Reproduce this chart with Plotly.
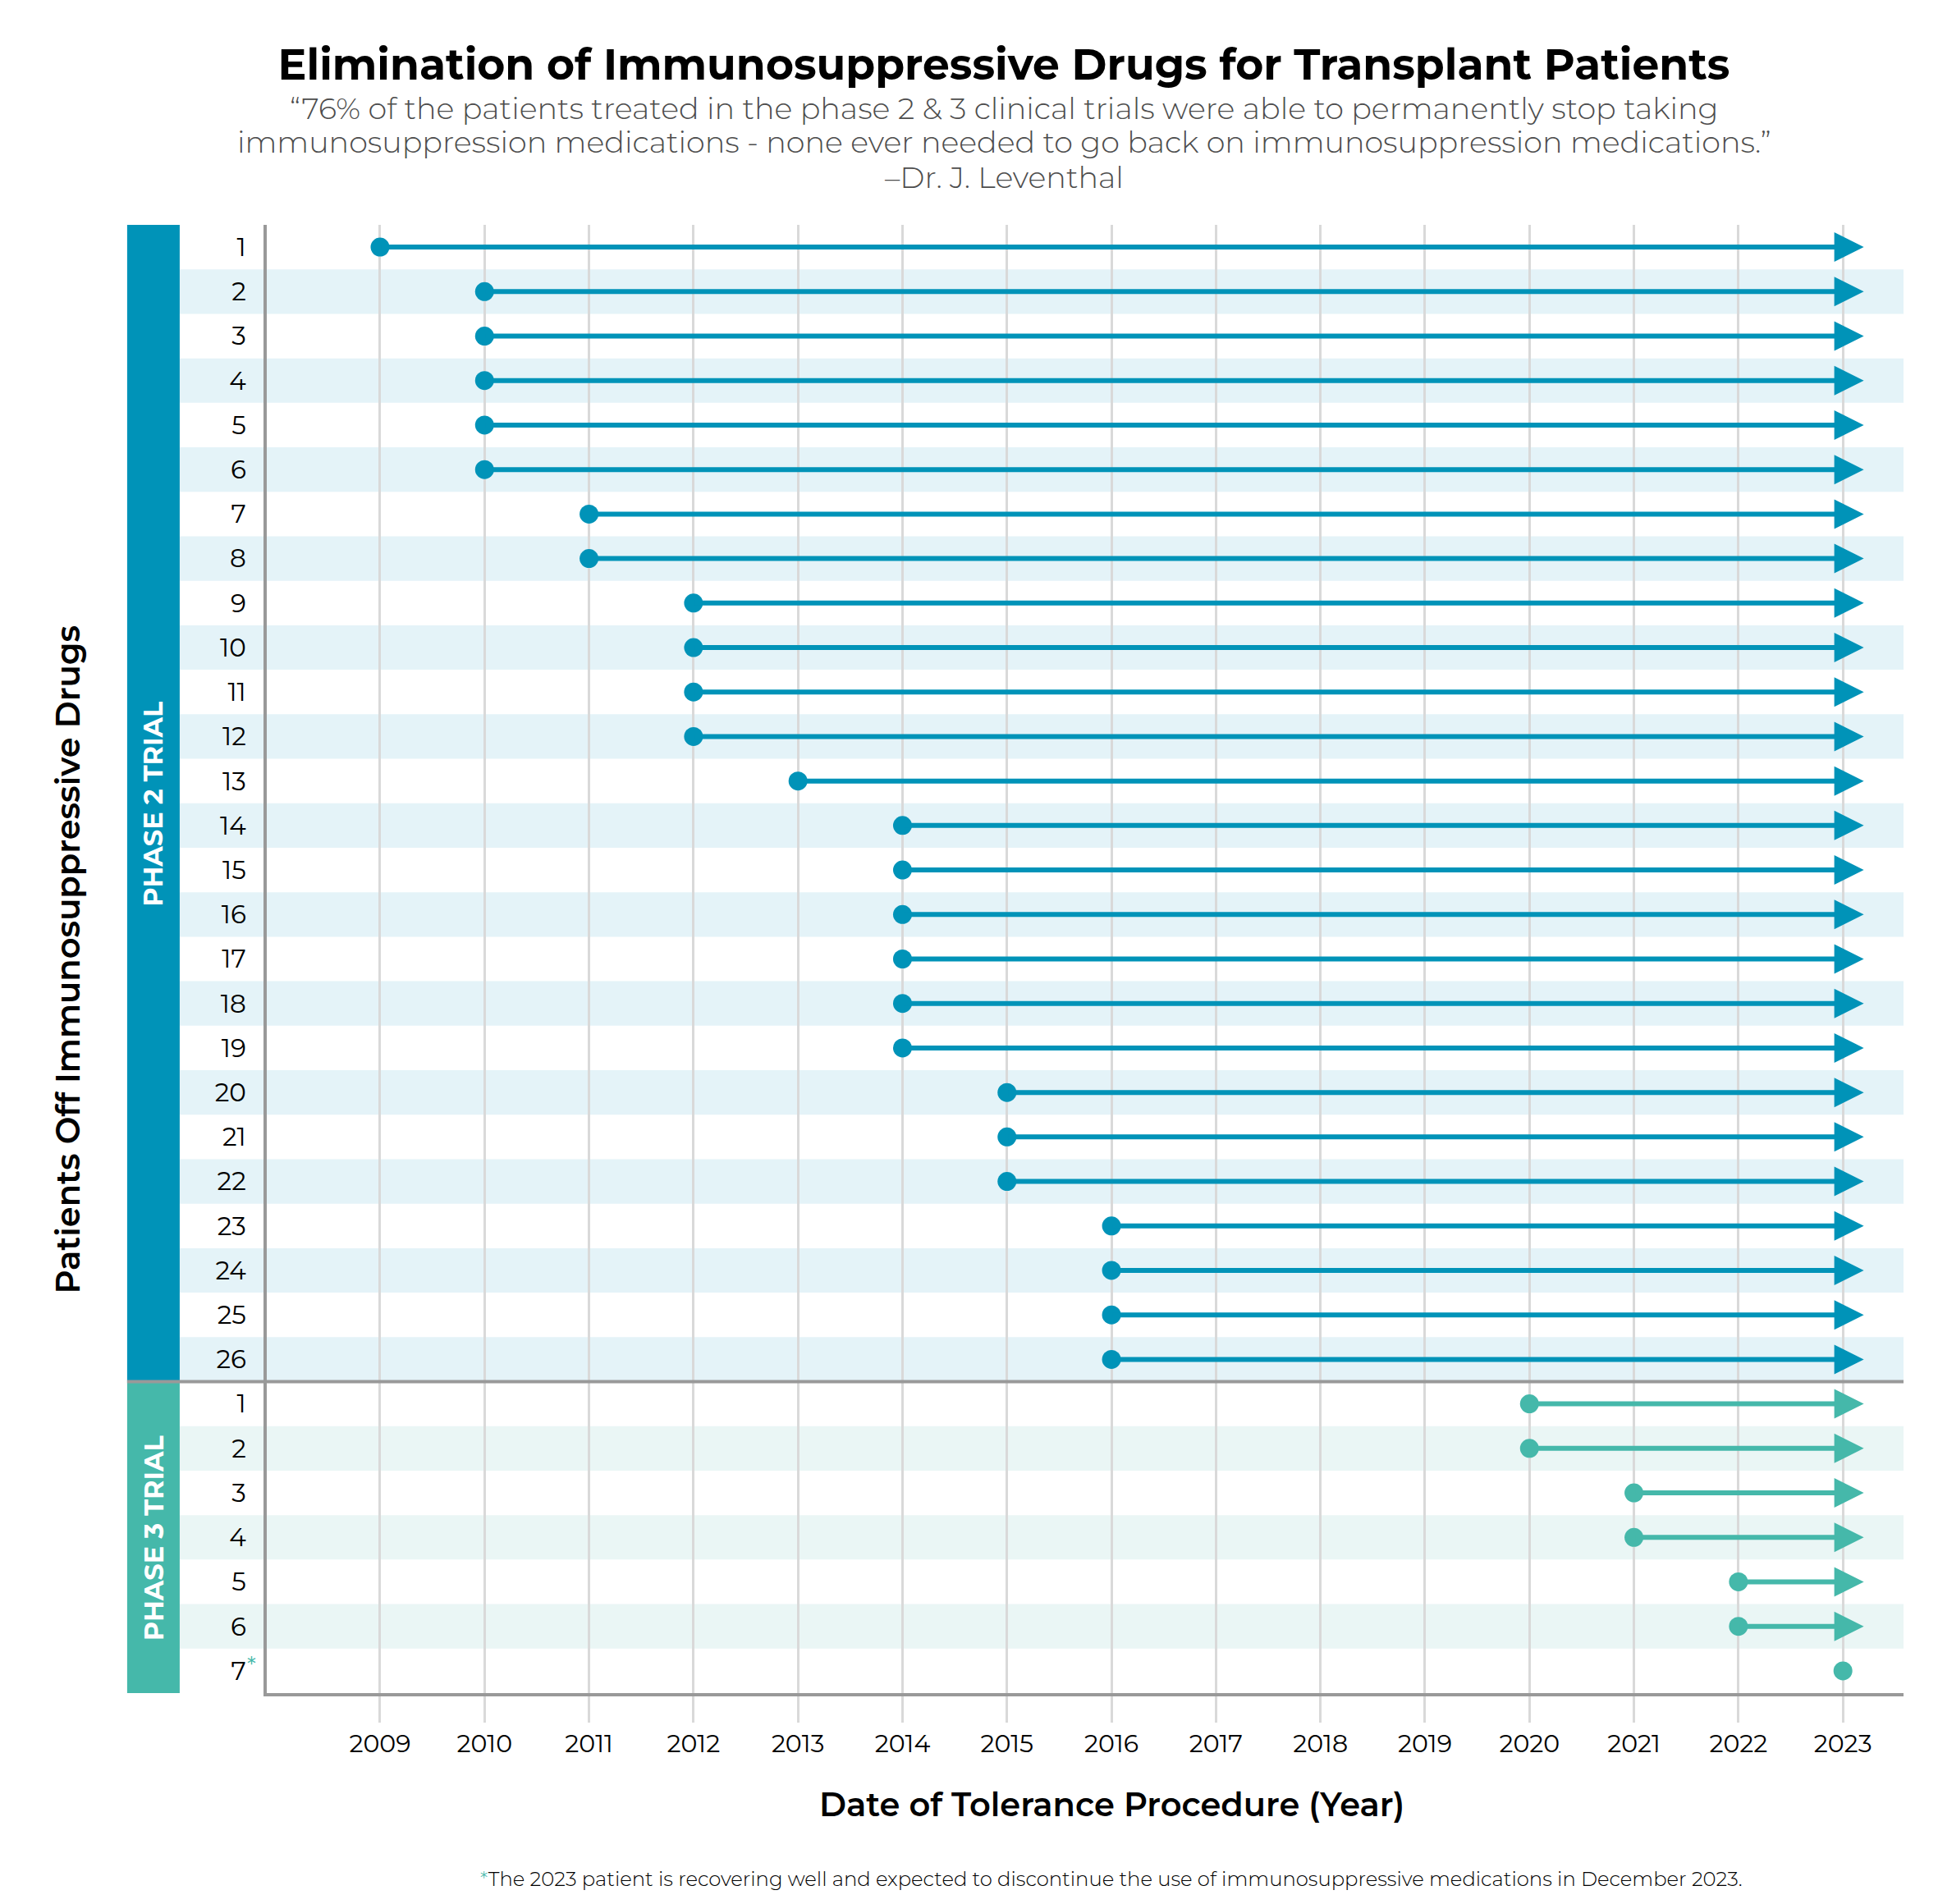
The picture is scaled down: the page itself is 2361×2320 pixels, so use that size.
import plotly.graph_objects as go

# Data: year each patient came off immunosuppressive drugs
phase2_start = [2009, 2010, 2010, 2010, 2010, 2010, 2011, 2011, 2012, 2012, 2012, 2012, 2013,
                2014, 2014, 2014, 2014, 2014, 2014, 2015, 2015, 2015, 2016, 2016, 2016, 2016]
phase3_start = [2020, 2020, 2021, 2021, 2022, 2022, 2023]
phase3_ongoing = [True, True, True, True, True, True, False]  # 7th patient still recovering
phase2_labels = [str(i) for i in range(1, 27)]
phase3_labels = [str(i) for i in range(1, 8)]
years = list(range(2009, 2024))
arrow_tip = 2023.2

# Styling
font = "Montserrat, Open Sans, sans-serif"
blue = "#0093B8"
teal = "#45B8AA"
blue_band = "#E4F3F8"
teal_band = "#EAF6F5"
axis_grey = "#999999"
grid_grey = "#D9D9D9"

n2 = len(phase2_start)
n3 = len(phase3_start)
rows2 = list(range(n2))
rows3 = list(range(n2, n2 + n3))

bar_x0 = -0.0853
bar_x1 = -0.0532

fig = go.Figure()

# start dots
fig.add_trace(go.Scatter(x=phase2_start, y=rows2, mode="markers",
                         marker=dict(size=23, color=blue), hoverinfo="x+y", showlegend=False))
fig.add_trace(go.Scatter(x=phase3_start, y=rows3, mode="markers",
                         marker=dict(size=23, color=teal), hoverinfo="x+y", showlegend=False))

shapes = []
annotations = []

# alternating light bands
for r in rows2:
    if r % 2 == 1:
        shapes.append(dict(type="rect", xref="paper", yref="y", x0=bar_x1, x1=1, y0=r - 0.5, y1=r + 0.5,
                           fillcolor=blue_band, line_width=0, layer="below"))
for r in rows3:
    if (r - n2) % 2 == 1:
        shapes.append(dict(type="rect", xref="paper", yref="y", x0=bar_x1, x1=1, y0=r - 0.5, y1=r + 0.5,
                           fillcolor=teal_band, line_width=0, layer="below"))

# phase bars
shapes.append(dict(type="rect", xref="paper", yref="y", x0=bar_x0, x1=bar_x1, y0=-0.5, y1=n2 - 0.5,
                   fillcolor=blue, line_width=0, layer="below"))
shapes.append(dict(type="rect", xref="paper", yref="y", x0=bar_x0, x1=bar_x1, y0=n2 - 0.5, y1=n2 + n3 - 0.5,
                   fillcolor=teal, line_width=0, layer="below"))
# divider between trials
shapes.append(dict(type="line", xref="paper", yref="y", x0=bar_x0, x1=1, y0=n2 - 0.5, y1=n2 - 0.5,
                   line=dict(color=axis_grey, width=4), layer="above"))

# arrows (line + head) from start year to present
for r, s in zip(rows2, phase2_start):
    annotations.append(dict(x=arrow_tip, y=r, ax=s, ay=r, xref="x", yref="y", axref="x", ayref="y",
                            text="", showarrow=True, arrowhead=2, arrowwidth=6, arrowsize=1.2,
                            arrowcolor=blue, standoff=0))
for r, s, go_on in zip(rows3, phase3_start, phase3_ongoing):
    if go_on:
        annotations.append(dict(x=arrow_tip, y=r, ax=s, ay=r, xref="x", yref="y", axref="x", ayref="y",
                                text="", showarrow=True, arrowhead=2, arrowwidth=6, arrowsize=1.2,
                                arrowcolor=teal, standoff=0))

# trial labels
annotations.append(dict(text="PHASE 2 TRIAL", xref="paper", yref="y", x=(bar_x0 + bar_x1) / 2, y=(n2 - 1) / 2,
                        xanchor="center", yanchor="middle", textangle=-90, showarrow=False,
                        font=dict(family=font, size=32, color="white", weight="bold")))
annotations.append(dict(text="PHASE 3 TRIAL", xref="paper", yref="y", x=(bar_x0 + bar_x1) / 2,
                        y=n2 + (n3 - 1) / 2, xanchor="center", yanchor="middle", textangle=-90, showarrow=False,
                        font=dict(family=font, size=32, color="white", weight="bold")))

# asterisk after the last phase 3 patient
annotations.append(dict(text="*", xref="paper", yref="y", x=0, y=rows3[-1], xshift=-19, yshift=7,
                        xanchor="center", yanchor="middle", showarrow=False,
                        font=dict(family=font, size=28, color=teal)))

# axis titles
annotations.append(dict(text="Patients Off Immunosuppressive Drugs", xref="paper", yref="y",
                        x=-0.1214, y=(n2 + n3 - 1) / 2, xanchor="center", yanchor="middle",
                        textangle=-90, showarrow=False,
                        font=dict(family=font, size=40, color="black", weight=600)))
annotations.append(dict(text="Date of Tolerance Procedure (Year)", xref="x", yref="paper",
                        x=2016, y=-0.0755, xanchor="center", yanchor="middle", showarrow=False,
                        font=dict(family=font, size=40, color="black", weight=600)))

# quote under the title
quote = ["\u201c76% of the patients treated in the phase 2 & 3 clinical trials were able to permanently stop taking",
         "immunosuppression medications - none ever needed to go back on immunosuppression medications.\u201d",
         "\u2013Dr. J. Leventhal"]
for line, yp in zip(quote, [1.0794, 1.0565, 1.0324]):
    annotations.append(dict(text=line, xref="paper", yref="paper", x=0.4504, y=yp,
                            xanchor="center", yanchor="middle", showarrow=False,
                            font=dict(family=font, size=36.5, color="#4D4D4D", weight=300)))

# footnote
annotations.append(dict(text="<span style='color:%s'>*</span>The 2023 patient is recovering well and expected to "
                             "discontinue the use of immunosuppressive medications in December 2023." % teal,
                        xref="x", yref="paper", x=2016, y=-0.1263, xanchor="center", yanchor="middle",
                        showarrow=False, font=dict(family=font, size=24.3, color="black", weight=300)))

fig.update_layout(
    width=2361,
    height=2320,
    margin=dict(l=325, r=42, t=274, b=257),
    paper_bgcolor="white",
    plot_bgcolor="rgba(0,0,0,0)",
    title=dict(text="<b>Elimination of Immunosuppressive Drugs for Transplant Patients</b>",
               x=0.518, y=0.966, xanchor="center", yanchor="middle",
               font=dict(family=font, size=52, color="black")),
    shapes=shapes,
    annotations=annotations,
    showlegend=False,
)

fig.update_xaxes(
    range=[2007.916, 2023.58],
    tickvals=years,
    ticktext=[str(y) for y in years],
    showgrid=True, gridcolor=grid_grey, gridwidth=3,
    ticks="outside", ticklen=32, tickwidth=3, tickcolor=grid_grey,
    showline=True, linecolor=axis_grey, linewidth=4,
    zeroline=False,
    tickfont=dict(family=font, size=30, color="black"),
)
fig.update_yaxes(
    range=[n2 + n3 - 0.5, -0.5],
    tickvals=rows2 + rows3,
    ticktext=phase2_labels + phase3_labels,
    showgrid=False, zeroline=False,
    showline=True, linecolor=axis_grey, linewidth=4,
    ticks="", ticklabelstandoff=15,
    tickfont=dict(family=font, size=31, color="black"),
)

# drop the browser's default page margin so the figure sits at the top-left corner
fig.write_html("out.html", config={"displayModeBar": False},
               post_script="document.body.style.margin = '0';")
